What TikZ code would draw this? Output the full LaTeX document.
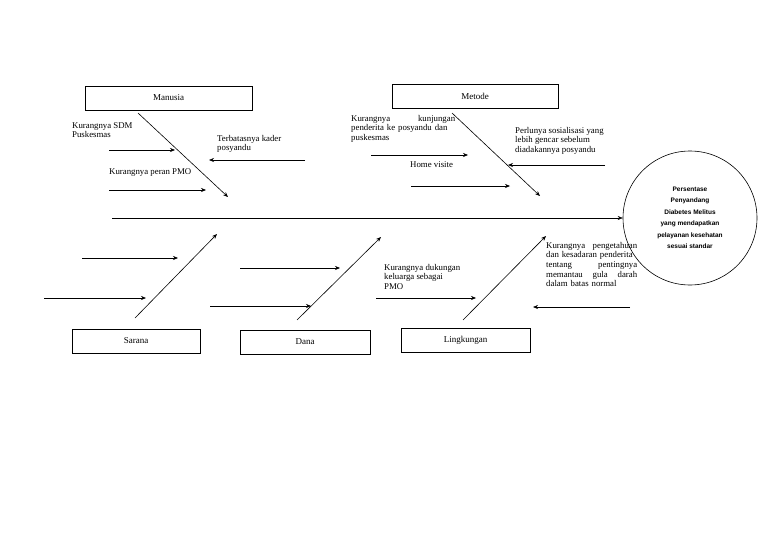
\documentclass[tikz,border=0pt]{standalone}
\usepackage{fontspec}
\setmainfont{Liberation Serif}
\newfontfamily\circfont{Liberation Sans}
\usetikzlibrary{arrows.meta}
\begin{document}
\begin{tikzpicture}[x=1pt,y=-1pt,
  box/.style={draw,line width=0.6pt,minimum width=#1,minimum height=24pt,inner sep=0pt,font=\fontsize{9}{10}\selectfont},
  arr/.style={-{Stealth[length=5pt,width=4pt]},line width=0.6pt},
  lbl/.style={font=\fontsize{8.8}{9.6}\selectfont,inner sep=0pt,anchor=north west,align=left}]
\useasboundingbox (0,0) rectangle (768,543);
\node[box=167pt] (manusia) at (168.5,98) {Manusia};
\node[box=166pt] (metode) at (475,96) {Metode};
\node[box=128pt] (sarana) at (136,341) {Sarana};
\node[box=130pt] (dana) at (305,342) {Dana};
\node[box=129pt] (lingk) at (465.5,340) {Lingkungan};
\node[draw,line width=0.6pt,circle,minimum size=134pt,inner sep=0pt,align=center,
  font=\circfont\bfseries\fontsize{6.5}{11.5}\selectfont] (goal) at (690,218)
  {Persentase\\Penyandang\\Diabetes Melitus\\yang mendapatkan\\pelayanan kesehatan\\sesuai standar};
% spine
\coordinate (s0) at (112,218);
\draw[arr,line width=0.4pt] (s0) -- (goal.west);
% diagonals
\coordinate (m0) at (138,113); \coordinate (m1) at (228,197);
\coordinate (t0) at (452,113); \coordinate (t1) at (540,196);
\coordinate (a0) at (135,318); \coordinate (a1) at (217,234);
\coordinate (d0) at (297,320); \coordinate (d1) at (381,237);
\coordinate (l0) at (463,320); \coordinate (l1) at (546,236);
\foreach \p/\q in {m0/m1,t0/t1,a0/a1,d0/d1,l0/l1} \draw[arr] (\p) -- (\q);
% manusia
\node[lbl] (n1) at (72,122) {Kurangnya SDM\\Puskesmas};
\node[lbl] (n2) at (217,135) {Terbatasnya kader\\posyandu};
\node[lbl] (n3) at (109,168) {Kurangnya peran PMO};
\coordinate (c1a) at (109,150); \coordinate (c1b) at (175,150);
\coordinate (c2a) at (305,160); \coordinate (c2b) at (209,160);
\coordinate (c3a) at (109,190); \coordinate (c3b) at (206,190);
% metode
\node[lbl,text width=104pt] (n4) at (351,115) {Kurangnya\hfill kunjungan\\penderita ke posyandu dan\\puskesmas};
\node[lbl] (n5) at (410,161) {Home visite};
\node[lbl] (n6) at (515,127) {Perlunya sosialisasi yang\\lebih gencar sebelum\\diadakannya posyandu};
\coordinate (c4a) at (371,155); \coordinate (c4b) at (468,155);
\coordinate (c5a) at (411,186); \coordinate (c5b) at (510,186);
\coordinate (c6a) at (605,165); \coordinate (c6b) at (508,165);
% sarana
\coordinate (c7a) at (82,258); \coordinate (c7b) at (178,258);
\coordinate (c8a) at (44,298); \coordinate (c8b) at (146,298);
% dana
\coordinate (c9a) at (240,268); \coordinate (c9b) at (340,268);
\coordinate (c10a) at (210,306); \coordinate (c10b) at (311,306);
\node[lbl] (n7) at (384,264) {Kurangnya dukungan\\keluarga sebagai\\PMO};
\coordinate (c11a) at (376,298); \coordinate (c11b) at (476,298);
% lingkungan
\node[lbl,text width=91pt] (n8) at (546,242) {Kurangnya\hfill pengetahuan\\dan kesadaran penderita\\tentang\hfill pentingnya\\memantau\hfill gula\hfill darah\\dalam batas normal};
\coordinate (c12a) at (630,307); \coordinate (c12b) at (533,307);
\foreach \i in {1,...,12} \draw[arr] (c\i a) -- (c\i b);
\end{tikzpicture}
\end{document}
